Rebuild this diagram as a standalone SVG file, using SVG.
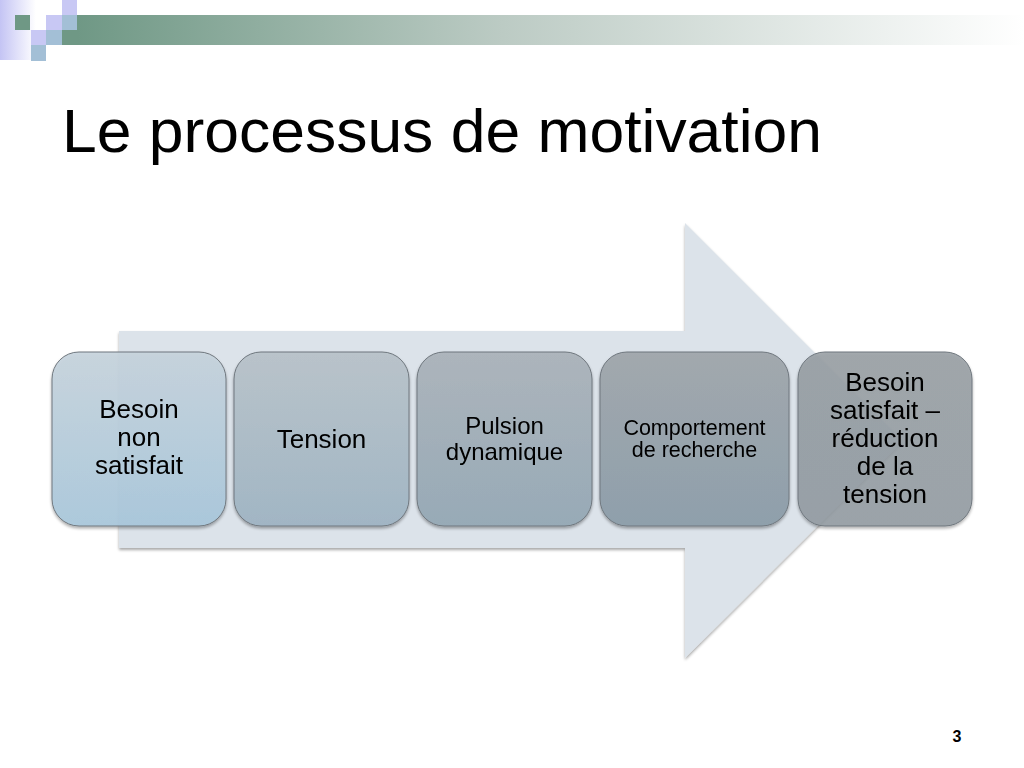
<svg xmlns="http://www.w3.org/2000/svg" width="1024" height="768" viewBox="0 0 1024 768">
<defs>
<style>
.t{font-family:"Liberation Sans",Arial,sans-serif;fill:#000;text-anchor:middle}
.box{stroke:#6f777e;stroke-width:1}
</style>
<linearGradient id="bar" x1="0" y1="0" x2="1" y2="0">
<stop offset="0" stop-color="#6f9885"/>
<stop offset="0.45" stop-color="#bccbc4"/>
<stop offset="1" stop-color="#ffffff"/>
</linearGradient>
<linearGradient id="lav" x1="0" y1="0" x2="1" y2="0">
<stop offset="0" stop-color="#c4c4f4"/>
<stop offset="1" stop-color="#ffffff"/>
</linearGradient>
<linearGradient id="g1" x1="0" y1="0" x2="0" y2="1"><stop offset="0" stop-color="#c7d4dd"/><stop offset="1" stop-color="#a9c8dc"/></linearGradient>
<linearGradient id="g2" x1="0" y1="0" x2="0" y2="1"><stop offset="0" stop-color="#b9c3ca"/><stop offset="1" stop-color="#a0b5c4"/></linearGradient>
<linearGradient id="g3" x1="0" y1="0" x2="0" y2="1"><stop offset="0" stop-color="#acb4bb"/><stop offset="1" stop-color="#96a9b6"/></linearGradient>
<linearGradient id="g4" x1="0" y1="0" x2="0" y2="1"><stop offset="0" stop-color="#a1a7ac"/><stop offset="1" stop-color="#8d9eaa"/></linearGradient>
<linearGradient id="g5" x1="0" y1="0" x2="0" y2="1"><stop offset="0" stop-color="#979ea3"/><stop offset="1" stop-color="#939ca2"/></linearGradient>
<filter id="sh" x="-10%" y="-10%" width="120%" height="125%">
<feGaussianBlur in="SourceAlpha" stdDeviation="1.5"/>
<feOffset dx="0" dy="2" result="b"/>
<feComponentTransfer><feFuncA type="linear" slope="0.35"/></feComponentTransfer>
<feMerge><feMergeNode/><feMergeNode in="SourceGraphic"/></feMerge>
</filter>
</defs>
<rect width="1024" height="768" fill="#ffffff"/>
<g id="decoration">
<rect x="0" y="0" width="36" height="60" fill="url(#lav)"/>
<rect x="77" y="15" width="947" height="30" fill="url(#bar)"/>
<rect x="62" y="30" width="15" height="15" fill="#6f9885"/>
<rect x="15" y="15" width="15" height="15" fill="#6f9885"/>
<rect x="62" y="0" width="15" height="15" fill="#c8c8f4"/>
<rect x="46" y="15" width="16" height="15" fill="#c8c8f4"/>
<rect x="62" y="15" width="15" height="15" fill="#a3bfd6"/>
<rect x="31" y="30" width="15" height="15" fill="#c8c8f4"/>
<rect x="46" y="30" width="16" height="15" fill="#a3bfd6"/>
<rect x="31" y="45" width="15" height="16" fill="#a3bfd6"/>
</g>
<text class="t" x="62" y="152" style="text-anchor:start;font-size:62px" textLength="760" lengthAdjust="spacingAndGlyphs">Le processus de motivation</text>
<g id="arrow">
<polygon points="119,331 685,331 685,223 903,441 685,658 685,548 119,548" fill="#dce3ea" filter="url(#sh)"/>
</g>
<g id="connectors"></g>
<g id="n1" filter="url(#sh)">
<rect class="box" x="52" y="352" width="174" height="174" rx="27" fill="url(#g1)" fill-opacity="0.9"/>
<text class="t" x="139" y="418" font-size="26">Besoin</text>
<text class="t" x="139" y="446" font-size="26">non</text>
<text class="t" x="139" y="474" font-size="26">satisfait</text>
</g>
<g id="n2" filter="url(#sh)">
<rect class="box" x="234" y="352" width="175" height="174" rx="27" fill="url(#g2)" fill-opacity="0.95"/>
<text class="t" x="321.5" y="448" font-size="26">Tension</text>
</g>
<g id="n3" filter="url(#sh)">
<rect class="box" x="417" y="352" width="175" height="174" rx="27" fill="url(#g3)" fill-opacity="0.95"/>
<text class="t" x="504.5" y="434" font-size="24">Pulsion</text>
<text class="t" x="504.5" y="460" font-size="24">dynamique</text>
</g>
<g id="n4" filter="url(#sh)">
<rect class="box" x="600" y="352" width="189" height="174" rx="27" fill="url(#g4)" fill-opacity="0.95"/>
<text class="t" x="694.5" y="435" font-size="21.5">Comportement</text>
<text class="t" x="694.5" y="457" font-size="21.5">de recherche</text>
</g>
<g id="n5" filter="url(#sh)">
<rect class="box" x="798" y="352" width="174" height="174" rx="27" fill="url(#g5)" fill-opacity="0.85"/>
<text class="t" x="885" y="391" font-size="26">Besoin</text>
<text class="t" x="885" y="419" font-size="26">satisfait –</text>
<text class="t" x="885" y="447" font-size="26">réduction</text>
<text class="t" x="885" y="475" font-size="26">de la</text>
<text class="t" x="885" y="503" font-size="26">tension</text>
</g>
<text class="t" x="957" y="742" font-size="16" font-weight="bold">3</text>
</svg>
